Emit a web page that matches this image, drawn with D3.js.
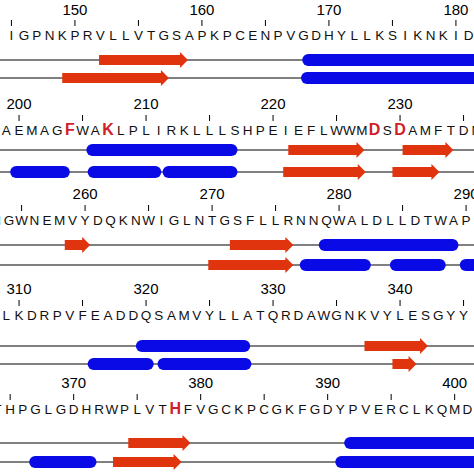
<!DOCTYPE html>
<html><head><meta charset="utf-8">
<script src="https://cdn.jsdelivr.net/npm/d3@7"></script>
<style>body{margin:0;background:#fff}text{font-family:"Liberation Sans",Arial,sans-serif}</style>
</head><body>
<script>
var width = 474, height = 474;

// each row: first residue number, sequence, highlighted residues
var rowStarts = [144, 198, 253, 309, 364];
var rowSeqs = [
  "IGPNKPRVLLVTGSAPKPCENPVGDHYLLKSIKNKID",
  "AEMAGFWAKLPLIRKLLLSHPEIEFLWWMDSDAMFTDN",
  "HGWNEMVYDQKNWIGLNTGSFLLRNNQWALDLLDTWAP",
  "LKDRPVFEADDQSAMVYLLATQRDAWGNKVYLESGYY",
  "THPGLGDHRWPLVTHFVGCKPCGKFGDYPVERCLKQMD"
];
var rowFirst = [145, 199, 253, 309, 364];
var rowTops = [0, 95, 185, 280, 374];
var redResidues = [204, 207, 228, 230, 378];

// secondary structure: [row, track, type, start, end]
var helices = [
  [0,0,167.9,183],[0,1,167.8,183],
  [1,0,205.3,217.2],[1,1,199.3,204],[1,1,205.4,211.2],[1,1,211.3,217.2],
  [2,0,278.4,289.4],[2,1,276.9,282.5],[2,1,284,288.4],[2,1,289.5,292],
  [3,0,319.2,328.2],[3,1,315.4,320.6],[3,1,320.9,328.3],
  [4,0,391.3,403],[4,1,366.5,371.8],[4,1,390.6,403]
];
var strands = [
  [0,0,151.9,158.9],[0,1,149,157.4],
  [1,0,221.2,227.2],[1,0,230.2,234.2],[1,1,220.8,227.3],[1,1,229.4,233.1],
  [2,0,258.4,260.4],[2,0,271.4,276.4],[2,1,269.7,276.4],
  [3,0,337.2,342.2],[3,1,339.4,341.3],
  [4,0,374.3,379.2],[4,1,373.1,378.5]
];

var svg = d3.select("body").append("svg").attr("width", width).attr("height", height);
var ppr = 12.7;

var rows = rowStarts.map(function(s, i) {
  var off = [144.1, 198.5, 253.3, 308.5, 364.2][i];
  var x = d3.scaleLinear().domain([off, off + width / ppr]).range([0, width]);
  var g = svg.append("g").attr("transform", "translate(0," + rowTops[i] + ")");
  var ticks = d3.range(Math.ceil(off / 5) * 5, off + width / ppr, 5);
  g.selectAll("line.tk").data(ticks).enter().append("line")
    .attr("x1", x).attr("x2", x).attr("y1", 20).attr("y2", 26)
    .attr("stroke", "#000").attr("stroke-width", 1);
  g.selectAll("text.num").data(ticks.filter(function(t){ return t % 10 == 0; })).enter().append("text")
    .attr("x", x).attr("y", i == 0 ? 15 : 14).attr("text-anchor", "middle")
    .attr("font-size", 15).text(function(d){ return d; });
  var letters = rowSeqs[i].split("").map(function(c, k){ return {c: c, r: rowFirst[i] + k}; });
  g.selectAll("text.aa").data(letters).enter().append("text")
    .attr("x", function(d){ return x(d.r); }).attr("y", 40).attr("text-anchor", "middle")
    .attr("font-size", function(d){ return redResidues.indexOf(d.r) >= 0 ? 16 : 13.5; })
    .attr("font-weight", function(d){ return redResidues.indexOf(d.r) >= 0 ? "bold" : "normal"; })
    .attr("fill", function(d){ return redResidues.indexOf(d.r) >= 0 ? "#d0202a" : "#111"; })
    .text(function(d){ return d.c; });
  return {x: x, g: g};
});

var trackY = [[60, 78], [55, 77], [60, 80], [66, 84], [69, 88]];

rows.forEach(function(row, i) {
  trackY[i].forEach(function(y) {
    row.g.append("line").attr("x1", 0).attr("x2", width).attr("y1", y).attr("y2", y)
      .attr("stroke", "#808080").attr("stroke-width", 2);
  });
});

helices.forEach(function(h) {
  var row = rows[h[0]], y = trackY[h[0]][h[1]];
  row.g.append("rect").attr("x", row.x(h[2])).attr("width", row.x(h[3]) - row.x(h[2]))
    .attr("y", y - 6).attr("height", 12).attr("rx", 6).attr("fill", "#0a0ae6");
});

strands.forEach(function(s) {
  var row = rows[s[0]], y = trackY[s[0]][s[1]];
  var x0 = row.x(s[2]), x1 = row.x(s[3]), hx = x1 - 8;
  row.g.append("path")
    .attr("d", "M" + x0 + "," + (y - 5) + "H" + hx + "V" + (y - 8) + "L" + x1 + "," + y +
      "L" + hx + "," + (y + 8) + "V" + (y + 5) + "H" + x0 + "Z")
    .attr("fill", "#e0340e");
});
</script>
</body></html>
